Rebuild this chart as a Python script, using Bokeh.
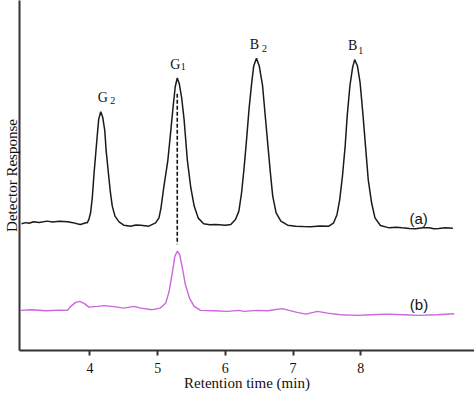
from bokeh.plotting import figure
from bokeh.models import Range1d, Label, FixedTicker
from bokeh.embed import file_html
from bokeh.resources import INLINE

# ---- data ----
time_a = [2.99, 3.05, 3.10, 3.17, 3.25, 3.37, 3.45, 3.55, 3.67, 3.75, 3.81, 3.86, 3.94, 3.96,
          3.985, 4.01, 4.035, 4.06, 4.085, 4.11, 4.13, 4.16, 4.19, 4.22, 4.24, 4.27, 4.30,
          4.33, 4.37, 4.43, 4.50, 4.60, 4.68, 4.75, 4.87, 4.97, 5.02, 5.05, 5.09, 5.15, 5.19,
          5.23, 5.26, 5.29, 5.32, 5.355, 5.39, 5.44, 5.49, 5.54, 5.60, 5.68, 5.77, 5.86, 6.00,
          6.08, 6.15, 6.20, 6.24, 6.275, 6.31, 6.35, 6.39, 6.42, 6.46, 6.50, 6.55, 6.585, 6.625,
          6.665, 6.70, 6.75, 6.82, 6.92, 7.04, 7.15, 7.26, 7.40, 7.53, 7.60, 7.65, 7.69, 7.73,
          7.77, 7.80, 7.84, 7.88, 7.91, 7.95, 7.99, 8.03, 8.07, 8.11, 8.16, 8.21, 8.29, 8.42,
          8.52, 8.61, 8.72, 8.81, 8.92, 9.01, 9.08, 9.155, 9.25, 9.36]
resp_a = [126.3, 127.5, 126.8, 128.3, 127.6, 129.0, 128.2, 128.8, 128.3, 127.5, 126.3, 125.7, 127.3, 127.3,
          130.7, 137.3, 152.3, 175.7, 195.7, 215.7, 230.7, 238.0, 232.3, 219.0, 199.0, 179.0, 159.0,
          144.0, 134.0, 128.3, 125.0, 124.0, 125.2, 125.0, 124.0, 127.3, 132.3, 142.3, 162.3, 189.0, 216.0,
          244.0, 263.0, 271.7, 266.0, 252.0, 231.0, 189.0, 162.3, 144.0, 132.0, 126.3, 125.4, 125.7, 125.0,
          125.7, 130.7, 139.0, 157.3, 180.7, 207.3, 240.7, 267.3, 284.0, 291.3, 284.0, 264.0, 237.3, 207.3,
          177.3, 154.0, 137.3, 129.0, 125.0, 124.0, 123.6, 123.3, 124.2, 124.0, 127.3, 135.7, 150.7, 174.0,
          204.0, 234.0, 264.0, 282.3, 290.0, 284.0, 267.3, 237.3, 204.0, 170.7, 147.3, 132.3, 124.7, 122.3,
          123.0, 122.3, 121.6, 121.3, 122.4, 122.3, 121.5, 121.7, 122.5, 122.0]

time_b = [2.98, 3.15, 3.35, 3.55, 3.67, 3.715, 3.79, 3.85, 3.92, 3.985, 4.11, 4.21, 4.355, 4.50,
          4.65, 4.75, 4.92, 5.04, 5.12, 5.17, 5.22, 5.255, 5.29, 5.325, 5.365, 5.41, 5.47, 5.54,
          5.635, 5.83, 6.03, 6.20, 6.275, 6.47, 6.62, 6.84, 6.94, 7.06, 7.19, 7.36, 7.51, 7.70,
          7.95, 8.15, 8.39, 8.64, 8.84, 9.13, 9.38]
resp_b = [40.0, 40.6, 39.6, 40.3, 40.0, 44.0, 48.0, 49.0, 46.7, 43.3, 44.0, 44.7, 43.7, 42.3,
          44.0, 42.3, 40.7, 42.3, 47.3, 59.0, 79.0, 94.0, 99.0, 95.7, 82.3, 65.7, 52.3, 44.0,
          40.0, 39.7, 39.0, 40.0, 39.0, 40.0, 39.7, 41.7, 40.0, 38.0, 36.3, 39.0, 37.3, 35.7,
          35.0, 35.7, 36.3, 35.7, 35.0, 35.7, 36.7]

peak_letters = ["G", "G", "B", "B"]
peak_subscripts = ["2", "1", "2", "1"]
peak_times = [4.16, 5.29, 6.46, 7.91]
peak_heights = [238.0, 271.7, 291.3, 290.0]
x_ticks = [4, 5, 6, 7, 8]
trace_names = ["(a)", "(b)"]

SERIF = "Liberation Serif"
SANS = "Liberation Sans"

p = figure(width=474, height=393, x_range=Range1d(2.96, 9.68), y_range=Range1d(0, 349),
           output_backend="svg", toolbar_location=None,
           min_border_left=0, min_border_right=0, min_border_top=0, min_border_bottom=0)
p.outline_line_color = None
p.grid.visible = False
p.background_fill_color = "white"
p.border_fill_color = "white"

# x axis
xa = p.xaxis[0]
xa.ticker = FixedTicker(ticks=x_ticks, minor_ticks=[])
xa.axis_label = "Retention time (min)"
xa.axis_label_text_font = SERIF
xa.axis_label_text_font_style = "normal"
xa.axis_label_text_font_size = "15px"
xa.axis_label_text_color = "#111111"
xa.axis_label_standoff = -1
xa.major_label_text_font = SERIF
xa.major_label_text_font_size = "14px"
xa.major_label_text_color = "#111111"
xa.major_label_standoff = 7
xa.axis_line_width = 2
xa.axis_line_color = "#333333"
xa.major_tick_line_width = 2
xa.major_tick_line_color = "#333333"
xa.major_tick_in = 0
xa.major_tick_out = 5
xa.minor_tick_line_color = None

# y axis
ya = p.yaxis[0]
ya.ticker = FixedTicker(ticks=[], minor_ticks=[])
ya.axis_label = "Detector Response"
ya.axis_label_text_font = SERIF
ya.axis_label_text_font_style = "normal"
ya.axis_label_text_font_size = "15px"
ya.axis_label_text_color = "#111111"
ya.axis_label_standoff = 0
ya.axis_line_width = 2
ya.axis_line_color = "#333333"
ya.major_tick_line_color = None
ya.minor_tick_line_color = None
ya.major_tick_in = 0
ya.major_tick_out = 0

# traces
p.line(time_a, resp_a, line_color="#1a1a1a", line_width=1.5)
p.line(time_b, resp_b, line_color="#cc66dd", line_width=1.4)

# dashed connector from G1 peak (a) to peak of (b)
dash_top = 256
dash_bottom = 106
p.line([peak_times[1], peak_times[1]], [dash_top, dash_bottom],
       line_color="#111111", line_width=1.6, line_dash="4 2")

# peak labels
letter_dx = [2, -2, -2, -2]
sub_dx = [12, 6, 8, 6]
sub_dy = [11, 12, 10, 9]
for i in range(len(peak_times)):
    p.add_layout(Label(x=peak_times[i], y=peak_heights[i], x_offset=letter_dx[i], y_offset=14,
                       text=peak_letters[i], text_align="center", text_baseline="middle",
                       text_font=SERIF, text_font_size="14px", text_color="#111111"))
    p.add_layout(Label(x=peak_times[i], y=peak_heights[i], x_offset=sub_dx[i], y_offset=sub_dy[i],
                       text=peak_subscripts[i], text_align="center", text_baseline="middle",
                       text_font=SERIF, text_font_size="10px", text_color="#111111"))

# trace labels
trace_label_x = [8.855, 8.86]
trace_label_y = [132, 45.7]
for name, tx, ty in zip(trace_names, trace_label_x, trace_label_y):
    p.add_layout(Label(x=tx, y=ty, text=name, text_align="center", text_baseline="middle",
                       text_font=SANS, text_font_size="15px", text_color="#111111"))

open("out.html", "w").write(file_html(p, INLINE))
